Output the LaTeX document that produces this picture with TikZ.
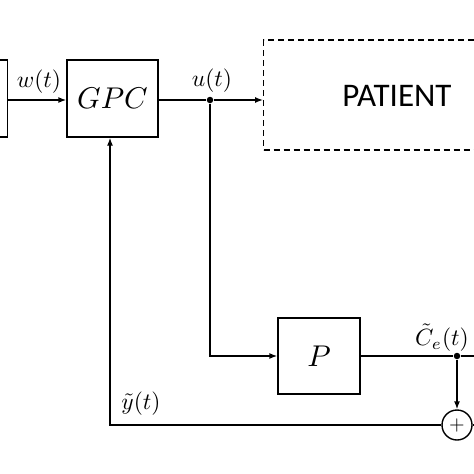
\documentclass[tikz,border=0pt]{standalone}
\usepackage{graphicx}
\usepackage{fontspec}
\newfontfamily\carl{Carlito}
\usetikzlibrary{arrows.meta}
\begin{document}
\begin{tikzpicture}[x=1pt,y=-1pt,line width=1.4pt,
  blk/.style={draw,minimum width=0pt,inner sep=0pt},
  lbl/.style={inner sep=0pt},
  arr/.style={-{Latex[length=8pt,width=6pt]}},
  dotc/.style={circle,fill,inner sep=0pt,minimum size=6.5pt}]
\useasboundingbox (0,0) rectangle (474,474);
\clip (0,0) rectangle (474,474);
% left partial box
\node[blk,minimum width=40pt,minimum height=77pt,anchor=east] (ref) at (8,98.5) {};
\node[blk,minimum width=91pt,minimum height=77pt] (gpc) at (112.5,98.5) {\scalebox{3}{$GPC$}};
\node[blk,dashed,dash pattern=on 6pt off 4pt,minimum width=240pt,minimum height=110pt,anchor=west] (pat) at (263,95) {};
\node[font=\carl\fontsize{33}{38}\selectfont,inner sep=0pt] (pattxt) at (397,96) {PATIENT};
\node[blk,minimum width=82pt,minimum height=76pt] (p) at (319,356) {\scalebox{3}{$P$}};
\node[dotc] (d1) at (210,100) {};
\node[dotc] (d2) at (457,356) {};
\node[draw,circle,minimum size=30pt,inner sep=0pt] (sum) at (457,425) {\scalebox{2}{$+$}};
\coordinate (c1) at (210,356);
\coordinate (c2) at (110,425);
\coordinate (rout) at (490,356);
\coordinate (sout) at (490,425);
\draw[arr] (ref.east|-0,100) -- (gpc.west|-0,100);
\draw[arr] (gpc.east|-d1) -- (d1) -- (pat.west|-d1);
\draw[arr] (d1) -- (c1) -- (p.west|-c1);
\draw (p.east|-d2) -- (d2) -- (rout);
\draw[arr] (d2) -- (sum.north);
\draw[arr] (sum.west) -- (c2) -- (gpc.south-|c2);
\draw (sum.east) -- (sout);
\node[lbl] (wl) at (39,82) {\scalebox{2.35}{$w(t)$}};
\node[lbl] (ul) at (212,81) {\scalebox{2.35}{$u(t)$}};
\node[lbl] (cl) at (442,338) {\scalebox{2.35}{$\tilde{C}_e(t)$}};
\node[lbl] (yl) at (141,404) {\scalebox{2.35}{$\tilde{y}(t)$}};
\end{tikzpicture}
\end{document}
